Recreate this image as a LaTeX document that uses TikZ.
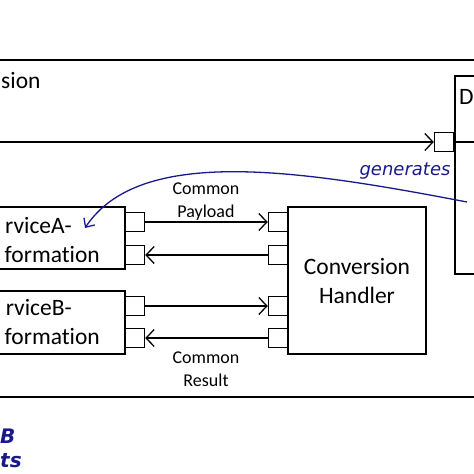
\documentclass[tikz,border=0pt]{standalone}
\usepackage{fontspec}
\setmainfont{Carlito}[Ligatures=CommonOff]
\newfontfamily\handfont{DejaVu Sans}
\usetikzlibrary{arrows.meta, positioning, calc}
\definecolor{genblue}{RGB}{25,25,140}
\tikzset{
  comp/.style={draw, line width=1.5pt, fill=white, inner sep=0pt, align=center, font=\fontsize{23.5}{29}\selectfont},
  port/.style={draw, line width=1.5pt, fill=white, minimum size=19pt, inner sep=0pt},
  link/.style={line width=1.3pt, -{Straight Barb[length=8pt,width=17pt,line width=1.3pt]}},
  lbl/.style={align=center, font=\fontsize{18}{23}\selectfont},
  big/.style={inner sep=0pt, font=\fontsize{23.5}{29}\selectfont},
  note/.style={text=genblue, font=\handfont\itshape\fontsize{18}{22}\selectfont}
}

\begin{document}
\begin{tikzpicture}[x=1pt,y=-1pt]
\useasboundingbox (0,0) rectangle (474,474);
\clip (0,0) rectangle (474,474);
%nodes
\node[comp, line width=1.8pt, minimum width=600pt, minimum height=337pt, anchor=north] (frame) at (237,59) {};
\node[big, anchor=base west] (ftitle) at (1,88) {sion};
\node[comp, minimum width=100pt, minimum height=198pt, anchor=north west] (dbox) at (454,75) {};
\node[big, anchor=base west] (dtitle) at (459,104) {D};
\node[port] (dport) at (444,142) {};

\node[comp, minimum width=198pt, minimum height=62pt] (svca) at (26,238) {};
\node[comp, minimum width=198pt, minimum height=63pt] (svcb) at (26,322.5) {};
\node[big, anchor=base east] (svca1) at (72,233) {rviceA-};
\node[big, anchor=base east] (svca2) at (100,262) {formation};
\node[big, anchor=base east] (svcb1) at (72,315) {rviceB-};
\node[big, anchor=base east] (svcb2) at (100,344) {formation};
\node[comp, minimum width=138pt, minimum height=147pt] (conv) at (357,280.5) {Conversion\\Handler};

\node[port] (pa1) at (135,222) {};
\node[port] (pa2) at (135,255) {};
\node[port] (pb1) at (135,306) {};
\node[port] (pb2) at (135,338) {};
\node[port] (pc1) at (278,222) {};
\node[port] (pc2) at (278,255) {};
\node[port] (pc3) at (278,306) {};
\node[port] (pc4) at (278,338) {};

\node[lbl] (pay) at (206,202) {Common\\Payload};
\node[lbl] (res) at (206,369) {Common\\Result};
\node[note] (gen) at (405,171) {generates};
\node[note, font=\handfont\bfseries\itshape\fontsize{20}{24}\selectfont, anchor=base west, inner sep=0pt] (tb) at (0,443) {B};
\node[note, font=\handfont\bfseries\itshape\fontsize{20}{24}\selectfont, anchor=base west, inner sep=0pt] (tts) at (0,467) {ts};

\coordinate (ext) at (-10,142);
\coordinate (gstart) at (467,202);
\coordinate (gend) at (85,228);

%connections
\draw[link] (ext) -- (dport.west);
\draw[line width=1.5pt] (dport.east) -- (dport.east -| dbox.east);
\draw[link] (pa1.east) -- (pc1.west);
\draw[link] (pc2.west) -- (pa2.east);
\draw[link] (pb1.east) -- (pc3.west);
\draw[link] (pc4.west) -- (pb2.east);
\draw[genblue, line width=1.3pt, -{Straight Barb[length=7pt,width=13pt,line width=1.3pt]}] (gstart) .. controls (300,170) and (140,145) .. (gend);
\end{tikzpicture}
\end{document}
